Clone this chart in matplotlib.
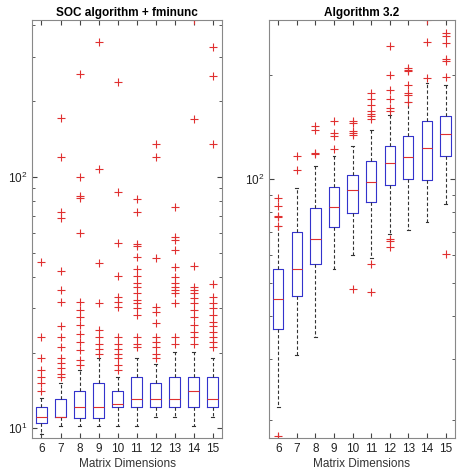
import matplotlib
matplotlib.use('Agg')
import matplotlib.pyplot as plt
from matplotlib.ticker import NullFormatter

dims = [6, 7, 8, 9, 10, 11, 12, 13, 14, 15]

# SOC algorithm + fminunc: (whislo, q1, med, q3, whishi)
soc_stats = [
    (9.5, 10.5, 11.1, 12.1, 13.2),
    (10.2, 11.1, 11.1, 13.1, 15.1),
    (10.2, 11.0, 12.1, 14.1, 17.0),
    (10.2, 11.0, 12.1, 15.1, 19.1),
    (10.2, 12.1, 12.5, 14.1, 16.0),
    (10.2, 12.1, 13.1, 16.0, 19.1),
    (11.1, 12.1, 13.1, 15.1, 18.0),
    (11.1, 12.1, 13.1, 16.0, 20.1),
    (10.2, 12.1, 14.1, 16.0, 20.1),
    (11.1, 12.1, 13.1, 16.0, 19.1),
]
soc_fliers = [
    [14.1, 15.1, 16.0, 17.0, 19.1, 23.1, 46],
    [16.0, 16.5, 17.3, 18.1, 19.0, 21.1, 23.0, 25.5, 31.8, 35.5, 42.4, 68.4, 72.7, 120, 171],
    [17.8, 18.7, 20.5, 22.1, 23.8, 25.7, 27.8, 29.5, 31.8, 59.7, 82.3, 84, 100, 257],
    [19.8, 20.7, 21.7, 23.1, 24.5, 31.4, 45.3, 107, 343],
    [17.0, 17.8, 19.0, 19.8, 20.7, 21.7, 23.1, 30.4, 31.8, 33.3, 40.3, 54.5, 87.4, 238],
    [21.1, 21.7, 23.1, 28.2, 30.0, 31.4, 32.4, 34.4, 36.6, 38.0, 40.3, 42.9, 47.9, 53.1, 54.1, 72.6, 81.5],
    [19.0, 19.8, 21.1, 22.1, 23.1, 26.3, 29.0, 30.4, 47.4, 120, 135],
    [21.7, 23.1, 31.4, 34.4, 35.5, 36.6, 38.0, 39.8, 44.0, 51.2, 56.1, 57.5, 75.7],
    [21.7, 23.1, 24.2, 25.7, 27.8, 29.5, 31.4, 32.9, 34.4, 35.6, 36.6, 44.2, 170, 420],
    [21.1, 22.1, 23.1, 24.2, 25.4, 26.5, 28.2, 30.0, 31.4, 33.3, 37.5, 135, 252, 327],
]

# Algorithm 3.2
alg_stats = [
    (21.8, 36.8, 44.8, 54.7, 72.9),
    (30.8, 45.7, 54.7, 70.2, 94.0),
    (34.8, 56.7, 67.0, 82.6, 109),
    (54.8, 72.4, 82.8, 94.6, 117),
    (60.0, 79.7, 93.1, 103, 125),
    (58.9, 85.9, 97.8, 113, 139),
    (69.3, 96.1, 111, 125, 154),
    (71.3, 100, 116, 133, 167),
    (74.9, 99.1, 123, 147, 190.5),
    (84.7, 117, 135, 153, 188),
]
alg_fliers = [
    [73.2, 77.4, 78.3, 83.7, 88.0, 17.9],
    [106, 117],
    [118, 119, 139, 143],
    [122, 133, 136, 147],
    [47.9, 138, 136, 134, 146, 147.5],
    [56.7, 47.0, 149, 152.6, 155, 157.5, 164, 171, 178],
    [67, 65.9, 63.4, 158, 161, 171, 182, 201, 244],
    [167.5, 176, 177.5, 188, 210, 208, 206],
    [196, 250, 290],
    [60.7, 198, 220, 222.6, 249, 261, 266],
]

plt.rcParams['font.family'] = ['Liberation Sans', 'DejaVu Sans']
plt.rcParams['font.size'] = 8.5


def make(stats, fliers):
    out = []
    for (lo, q1, med, q3, hi), fl in zip(stats, fliers):
        out.append(dict(whislo=lo, q1=q1, med=med, q3=q3, whishi=hi, fliers=fl))
    return out


fig = plt.figure(figsize=(4.74, 4.74), dpi=100)
ax1 = fig.add_axes([0.0675, 0.076, 0.401, 0.882])
ax2 = fig.add_axes([0.5675, 0.076, 0.392, 0.882])

panels = [(ax1, soc_stats, soc_fliers, 'SOC algorithm + fminunc', (9.15, 421)),
          (ax2, alg_stats, alg_fliers, 'Algorithm 3.2', (17.7, 290))]

for ax, st, fl, title, ylim in panels:
    ax.bxp(make(st, fl), positions=range(1, 11), widths=0.55,
           boxprops=dict(color='#3333cc', lw=0.8),
           medianprops=dict(color='#e03030', lw=0.8),
           whiskerprops=dict(color='#333333', lw=0.8, ls=(0, (3, 2))),
           capprops=dict(color='#333333', lw=0.8),
           capwidths=0.15,
           flierprops=dict(marker='+', markeredgecolor='#e03030', markersize=6, markeredgewidth=0.8))
    ax.set_yscale('log')
    ax.set_ylim(*ylim)
    ax.set_xlim(0.5, 10.5)
    ax.set_xticks(range(1, 11))
    ax.set_xticklabels([str(d) for d in dims])
    ax.yaxis.set_minor_formatter(NullFormatter())
    ax.tick_params(which='both', direction='in', right=True, top=True, colors='#444444', labelcolor='#222222')
    for s in ax.spines.values():
        s.set_color('#888888')
        s.set_linewidth(0.8)
    ax.set_xlabel('Matrix Dimensions', fontsize=8.5, color='#333333', labelpad=2)
    ax.set_title(title, fontsize=8.5, fontweight='bold', pad=3)

fig.savefig('out.png', dpi=100)
